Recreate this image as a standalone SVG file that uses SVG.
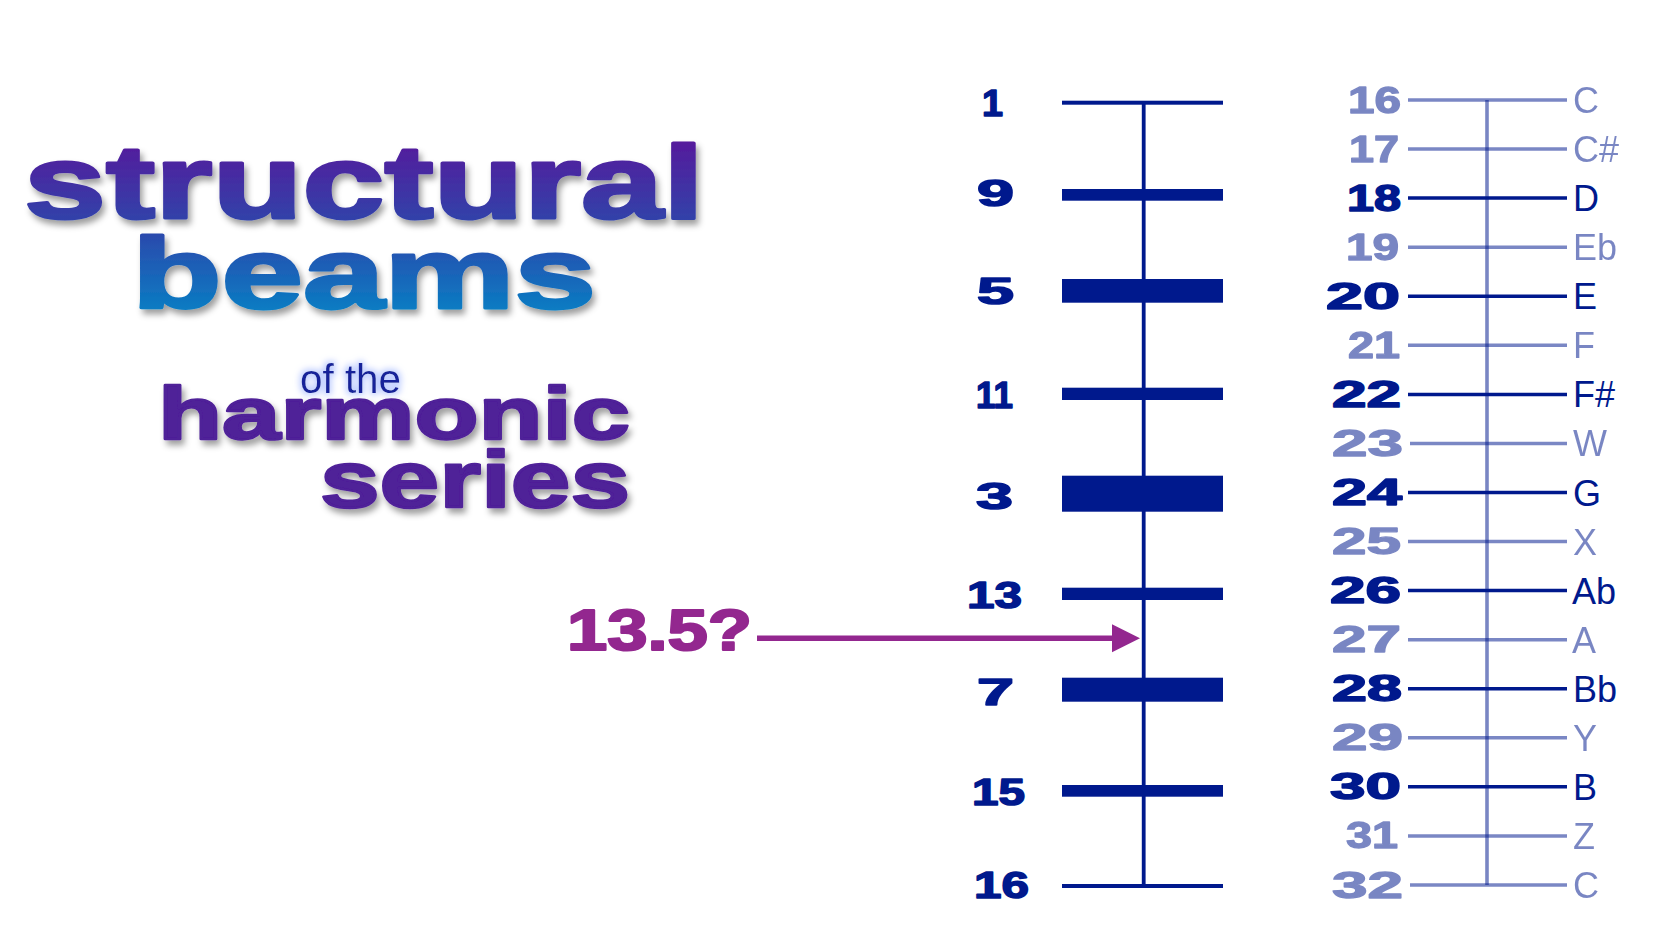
<svg xmlns="http://www.w3.org/2000/svg" width="1664" height="946" viewBox="0 0 1664 946">
<defs>
<linearGradient id="tg" gradientUnits="userSpaceOnUse" x1="0" y1="140" x2="0" y2="310">
<stop offset="0" stop-color="#561a9c"/>
<stop offset="0.5" stop-color="#2f44aa"/>
<stop offset="1" stop-color="#0a7cc3"/>
</linearGradient>
<filter id="sh" x="-10%" y="-20%" width="130%" height="160%">
<feDropShadow dx="3" dy="5" stdDeviation="3" flood-color="#000" flood-opacity="0.38"/>
</filter>
<filter id="glow" x="-20%" y="-40%" width="140%" height="180%">
<feMorphology in="SourceAlpha" operator="dilate" radius="2" result="d"/>
<feGaussianBlur in="d" stdDeviation="3" result="b"/>
<feFlood flood-color="#b8c8ff" flood-opacity="0.9"/>
<feComposite in2="b" operator="in" result="g"/>
<feMerge><feMergeNode in="g"/><feMergeNode in="SourceGraphic"/></feMerge>
</filter>
<marker id="ah" markerUnits="userSpaceOnUse" markerWidth="30" markerHeight="30" refX="0" refY="14" orient="auto">
<path d="M0,0 L28,14 L0,28 z" fill="#93278f"/>
</marker>
</defs>
<style>
.title{font-family:"Liberation Sans",Arial,sans-serif;font-weight:bold;stroke-linejoin:round}
.num{font-family:"Liberation Sans",Arial,sans-serif;font-weight:bold;stroke-linejoin:round}
.dk{fill:#00198d;stroke:#00198d}
.lt{fill:#00198d;stroke:#00198d;opacity:0.52}
.note{font-family:"Liberation Sans",Arial,sans-serif;font-size:36px;stroke:none}
.bar{fill:#00198d}
.hl{stroke-width:3.5}
.hl.dk, .hl.lt{fill:none}
</style>
<rect width="1664" height="946" fill="#fff"/>

<g id="title" filter="url(#sh)">
<text class="title" x="24" y="218" font-size="103" textLength="680" lengthAdjust="spacingAndGlyphs" fill="url(#tg)" stroke="url(#tg)" stroke-width="3">structural</text>
<text class="title" x="132" y="308" font-size="100" textLength="464" lengthAdjust="spacingAndGlyphs" fill="url(#tg)" stroke="url(#tg)" stroke-width="3">beams</text>
</g>
<g id="subtitle">
<text x="300" y="393" font-family="Liberation Sans,Arial,sans-serif" font-size="40" fill="#13249a" filter="url(#glow)" textLength="101" lengthAdjust="spacingAndGlyphs">of the</text>
<g filter="url(#sh)">
<text class="title" x="158" y="439" font-size="75" textLength="472" lengthAdjust="spacingAndGlyphs" fill="#4f2098" stroke="#4f2098" stroke-width="2.5">harmonic</text>
<text class="title" x="320" y="507" font-size="80" textLength="310" lengthAdjust="spacingAndGlyphs" fill="#4f2098" stroke="#4f2098" stroke-width="2.5">series</text>
</g>
</g>

<g id="connectors">
<line x1="1143.7" y1="101" x2="1143.7" y2="888" stroke="#00198d" stroke-width="3.8"/>
<line x1="1487" y1="100" x2="1487" y2="885" stroke="#00198d" stroke-width="3.6" opacity="0.52"/>
<line x1="757" y1="638.3" x2="1112" y2="638.3" stroke="#93278f" stroke-width="5.5" marker-end="url(#ah)"/>
</g>

<g id="query">
<text class="num" x="567" y="650" font-size="58" textLength="185" lengthAdjust="spacingAndGlyphs" fill="#93278f" stroke="#93278f" stroke-width="2.2">13.5?</text>
</g>

<g id="h1"><rect class="bar" x="1062" y="100.7" width="161" height="4"/><text class="num dk" x="982" y="116" font-size="37" stroke-width="1.5" textLength="21" lengthAdjust="spacingAndGlyphs">1</text></g>
<g id="h9"><rect class="bar" x="1062" y="189" width="161" height="11.7"/><text class="num dk" x="977" y="206" font-size="37" stroke-width="1.5" textLength="37" lengthAdjust="spacingAndGlyphs">9</text></g>
<g id="h5"><rect class="bar" x="1062" y="279" width="161" height="23.7"/><text class="num dk" x="977" y="304" font-size="37" stroke-width="1.5" textLength="37" lengthAdjust="spacingAndGlyphs">5</text></g>
<g id="h11"><rect class="bar" x="1062" y="387.7" width="161" height="12.3"/><text class="num dk" x="976" y="407.5" font-size="37" stroke-width="1.5" textLength="37" lengthAdjust="spacingAndGlyphs">11</text></g>
<g id="h3"><rect class="bar" x="1062" y="475.7" width="161" height="36"/><text class="num dk" x="976" y="508.5" font-size="37" stroke-width="1.5" textLength="37" lengthAdjust="spacingAndGlyphs">3</text></g>
<g id="h13"><rect class="bar" x="1062" y="587.7" width="161" height="12.3"/><text class="num dk" x="967" y="607.5" font-size="37" stroke-width="1.5" textLength="55" lengthAdjust="spacingAndGlyphs">13</text></g>
<g id="h7"><rect class="bar" x="1062" y="677.7" width="161" height="24"/><text class="num dk" x="977" y="704.5" font-size="37" stroke-width="1.5" textLength="37" lengthAdjust="spacingAndGlyphs">7</text></g>
<g id="h15"><rect class="bar" x="1062" y="785" width="161" height="11.7"/><text class="num dk" x="972" y="804.5" font-size="37" stroke-width="1.5" textLength="53" lengthAdjust="spacingAndGlyphs">15</text></g>
<g id="h16"><rect class="bar" x="1062" y="884" width="161" height="4"/><text class="num dk" x="974" y="897.5" font-size="37" stroke-width="1.5" textLength="55" lengthAdjust="spacingAndGlyphs">16</text></g>

<g id="n16"><line class="hl lt" x1="1408" y1="100" x2="1567" y2="100"/><text class="num lt" x="1348" y="112.5" font-size="36" stroke-width="1.3" textLength="53" lengthAdjust="spacingAndGlyphs">16</text><text class="note lt" x="1573" y="113" stroke="none">C</text></g>
<g id="n17"><line class="hl lt" x1="1408" y1="149.1" x2="1567" y2="149.1"/><text class="num lt" x="1349" y="161.6" font-size="36" stroke-width="1.3" textLength="50" lengthAdjust="spacingAndGlyphs">17</text><text class="note lt" x="1573" y="162.1" stroke="none">C#</text></g>
<g id="n18"><line class="hl dk" x1="1408" y1="198.1" x2="1567" y2="198.1"/><text class="num dk" x="1347" y="210.6" font-size="37" stroke-width="1.5" textLength="54" lengthAdjust="spacingAndGlyphs">18</text><text class="note dk" x="1573" y="211.1" stroke="none">D</text></g>
<g id="n19"><line class="hl lt" x1="1408" y1="247.2" x2="1567" y2="247.2"/><text class="num lt" x="1346" y="259.7" font-size="36" stroke-width="1.3" textLength="53" lengthAdjust="spacingAndGlyphs">19</text><text class="note lt" x="1573" y="260.2" stroke="none">Eb</text></g>
<g id="n20"><line class="hl dk" x1="1408" y1="296.2" x2="1567" y2="296.2"/><text class="num dk" x="1326" y="308.7" font-size="37" stroke-width="1.5" textLength="74" lengthAdjust="spacingAndGlyphs">20</text><text class="note dk" x="1573" y="309.2" stroke="none">E</text></g>
<g id="n21"><line class="hl lt" x1="1408" y1="345.3" x2="1567" y2="345.3"/><text class="num lt" x="1348" y="357.8" font-size="36" stroke-width="1.3" textLength="52" lengthAdjust="spacingAndGlyphs">21</text><text class="note lt" x="1573" y="358.3" stroke="none">F</text></g>
<g id="n22"><line class="hl dk" x1="1408" y1="394.4" x2="1567" y2="394.4"/><text class="num dk" x="1332" y="406.9" font-size="37" stroke-width="1.5" textLength="69" lengthAdjust="spacingAndGlyphs">22</text><text class="note dk" x="1573" y="407.4" stroke="none">F#</text></g>
<g id="n23"><line class="hl lt" x1="1410" y1="443.4" x2="1567" y2="443.4"/><text class="num lt" x="1332" y="455.9" font-size="36" stroke-width="1.3" textLength="71" lengthAdjust="spacingAndGlyphs">23</text><text class="note lt" x="1573" y="456.4" stroke="none">W</text></g>
<g id="n24"><line class="hl dk" x1="1408" y1="492.5" x2="1567" y2="492.5"/><text class="num dk" x="1332" y="505" font-size="37" stroke-width="1.5" textLength="70" lengthAdjust="spacingAndGlyphs">24</text><text class="note dk" x="1573" y="505.5" stroke="none">G</text></g>
<g id="n25"><line class="hl lt" x1="1408" y1="541.5" x2="1567" y2="541.5"/><text class="num lt" x="1332" y="554" font-size="36" stroke-width="1.3" textLength="69" lengthAdjust="spacingAndGlyphs">25</text><text class="note lt" x="1573" y="554.5" stroke="none">X</text></g>
<g id="n26"><line class="hl dk" x1="1408" y1="590.6" x2="1567" y2="590.6"/><text class="num dk" x="1330" y="603.1" font-size="37" stroke-width="1.5" textLength="71" lengthAdjust="spacingAndGlyphs">26</text><text class="note dk" x="1572" y="603.6" stroke="none">Ab</text></g>
<g id="n27"><line class="hl lt" x1="1408" y1="639.7" x2="1567" y2="639.7"/><text class="num lt" x="1332" y="652.2" font-size="36" stroke-width="1.3" textLength="69" lengthAdjust="spacingAndGlyphs">27</text><text class="note lt" x="1572" y="652.7" stroke="none">A</text></g>
<g id="n28"><line class="hl dk" x1="1408" y1="688.7" x2="1567" y2="688.7"/><text class="num dk" x="1332" y="701.2" font-size="37" stroke-width="1.5" textLength="70" lengthAdjust="spacingAndGlyphs">28</text><text class="note dk" x="1573" y="701.7" stroke="none">Bb</text></g>
<g id="n29"><line class="hl lt" x1="1408" y1="737.8" x2="1567" y2="737.8"/><text class="num lt" x="1332" y="750.3" font-size="36" stroke-width="1.3" textLength="71" lengthAdjust="spacingAndGlyphs">29</text><text class="note lt" x="1573" y="750.8" stroke="none">Y</text></g>
<g id="n30"><line class="hl dk" x1="1408" y1="786.8" x2="1567" y2="786.8"/><text class="num dk" x="1330" y="799.3" font-size="37" stroke-width="1.5" textLength="71" lengthAdjust="spacingAndGlyphs">30</text><text class="note dk" x="1573" y="799.8" stroke="none">B</text></g>
<g id="n31"><line class="hl lt" x1="1408" y1="835.9" x2="1567" y2="835.9"/><text class="num lt" x="1346" y="848.4" font-size="36" stroke-width="1.3" textLength="52" lengthAdjust="spacingAndGlyphs">31</text><text class="note lt" x="1573" y="848.9" stroke="none">Z</text></g>
<g id="n32"><line class="hl lt" x1="1410" y1="885" x2="1567" y2="885"/><text class="num lt" x="1332" y="897.5" font-size="36" stroke-width="1.3" textLength="71" lengthAdjust="spacingAndGlyphs">32</text><text class="note lt" x="1573" y="898" stroke="none">C</text></g>
</svg>
